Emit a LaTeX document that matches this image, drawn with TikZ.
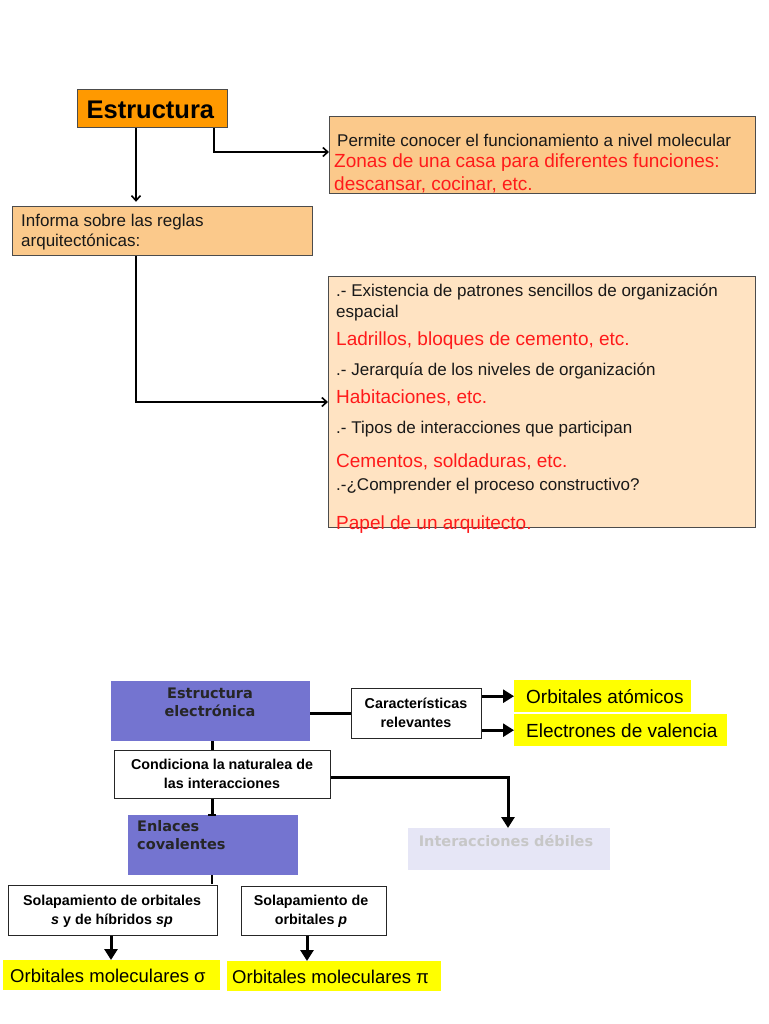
\documentclass[tikz,border=0pt]{standalone}
\usepackage{fontspec}
\setmainfont{Liberation Sans}
\newfontfamily\djv{DejaVu Sans}
\usetikzlibrary{arrows.meta,calc}
\definecolor{orng}{HTML}{FF9900}
\definecolor{lorng}{HTML}{FBC98B}
\definecolor{pale}{HTML}{FFE3C2}
\definecolor{purp}{HTML}{7474D0}
\definecolor{lav}{HTML}{E6E6F6}
\definecolor{ylw}{HTML}{FFFF00}
\definecolor{redt}{HTML}{FF1A1A}
\tikzset{
  box/.style={draw=black!70, line width=0.8pt, inner sep=0pt, anchor=north west},
  blk/.style={anchor=base west, inner sep=0pt, text=black!90, font=\fontsize{17}{19}\selectfont},
  rdt/.style={anchor=base west, inner sep=0pt, text=redt, font=\fontsize{19}{21}\selectfont},
  thin/.style={line width=1.6pt, -{Straight Barb[length=5pt,width=9pt]}},
  thickln/.style={line width=3pt},
  thickarr/.style={line width=3pt, -{Triangle[length=11pt,width=13pt]}},
  cbox/.style={draw=black!85, line width=1.4pt, fill=white, inner sep=0pt, anchor=north west},
  ctxt/.style={inner sep=0pt, align=center, font=\bfseries\fontsize{14.3}{19}\selectfont},
  ybox/.style={fill=ylw, inner sep=0pt, anchor=north west},
  ytxt/.style={anchor=base west, inner sep=0pt, font=\fontsize{19}{21}\selectfont},
  pbox/.style={fill=purp, inner sep=0pt, anchor=north west},
  ptxt/.style={inner sep=0pt, font=\djv\bfseries\fontsize{14.5}{18}\selectfont, text=black!85}
}
\begin{document}
\begin{tikzpicture}[x=1pt,y=-1pt]
\useasboundingbox[fill=white] (0,0) rectangle (768,1024);

% ---------- top part ----------
\node[box, fill=orng, minimum width=150pt, minimum height=38pt] (est) at (77,89) {};
\node[inner sep=0pt, font=\bfseries\fontsize{25.5}{27}\selectfont] (estt) at ($(est.center)+(-2,1)$) {Estructura};

\node[box, fill=lorng, minimum width=426pt, minimum height=77pt] (perm) at (329,116) {};
\node[blk] (p1) at (337,147) {Permite conocer el funcionamiento a nivel molecular};
\node[rdt] (p2) at (334,168) {Zonas de una casa para diferentes funciones:};
\node[rdt] (p3) at (334,191) {descansar, cocinar, etc.};

\node[box, fill=lorng, minimum width=300pt, minimum height=49pt] (inf) at (12,206) {};
\node[blk] (i1) at (21,226) {Informa sobre las reglas};
\node[blk] (i2) at (21,247) {arquitectónicas:};

\node[box, fill=pale, minimum width=427pt, minimum height=251pt] (big) at (328,276) {};
\node[blk] (b1) at (336,296) {.- Existencia de patrones sencillos de organización};
\node[blk] (b2) at (336,317) {espacial};
\node[rdt] (b3) at (336,345) {Ladrillos, bloques de cemento, etc.};
\node[blk] (b4) at (336,375) {.- Jerarquía de los niveles de organización};
\node[rdt] (b5) at (336,403) {Habitaciones, etc.};
\node[blk] (b6) at (336,433) {.- Tipos de interacciones que participan};
\node[rdt] (b7) at (336,467) {Cementos, soldaduras, etc.};
\node[blk] (b8) at (336,490) {.-¿Comprender el proceso constructivo?};
\node[rdt] (b9) at (336,529) {Papel de un arquitecto.};

\draw[thin] ($(est.south west)+(59,0)$) -- ($(est.south west)+(59,74)$);
\draw[thin] ($(est.south west)+(137,0)$) |- ($(perm.north west)+(0,36)$);
\draw[thin] ($(inf.south west)+(124,0)$) |- ($(big.north west)+(0,126)$);

% ---------- bottom part ----------
\node[pbox, minimum width=199pt, minimum height=60pt] (ee) at (111,681) {};
\node[ptxt, align=center] (eet) at (210,702) {Estructura\\electrónica};

\node[cbox, minimum width=130pt, minimum height=50pt] (car) at (351,688) {};
\node[ctxt] (cart) at (416,713) {Características\\relevantes};

\node[ybox, minimum width=177pt, minimum height=32pt] (oa) at (514,680) {};
\node[ytxt] (oat) at (526,703) {Orbitales atómicos};
\node[ybox, minimum width=213pt, minimum height=32pt] (ev) at (514,714) {};
\node[ytxt] (evt) at (526,737) {Electrones de valencia};

\draw[thickln] (ee.east |- car.west) -- (car.west);
\draw[thickarr] (car.east |- oa.west) -- (oa.west);
\draw[thickarr] (car.east |- ev.west) -- (ev.west);

\node[cbox, minimum width=216pt, minimum height=48pt] (cond) at (114,750) {};
\node[ctxt] (condt) at (222,774) {Condiciona la naturalea de\\las interacciones};
\draw[thickln] ($(ee.south west)+(101,0)$) -- ($(cond.north west)+(98,0)$);

\node[anchor=north west, fill=lav, inner sep=0pt, minimum width=202pt, minimum height=42pt] (id) at (408,828) {};
\node[inner sep=0pt, font=\djv\bfseries\fontsize{14.5}{16}\selectfont, text=black!22] (idt) at (506,841) {Interacciones débiles};
\draw[thickarr] ($(cond.north east)+(0,27)$) -| ($(id.north west)+(100,0)$);

\node[pbox, minimum width=170pt, minimum height=60pt] (enl) at (128,815) {};
\node[ptxt, align=left, anchor=north west] (enlt) at (137,820) {Enlaces\\covalentes};
\draw[thickln] ($(cond.south west)+(98,0)$) -- ($(enl.north west)+(84,0)$);
\draw[line width=2pt] ($(enl.north west)+(80,0)$) -- ($(enl.north west)+(88,0)$);

\node[cbox, minimum width=209pt, minimum height=50pt] (s1) at (8,885) {};
\node[ctxt] (s1t) at (112,911) {Solapamiento de orbitales\\\textit{s} y de híbridos \textit{sp}};
\node[cbox, minimum width=145pt, minimum height=49pt] (s2) at (241,886) {};
\node[ctxt] (s2t) at (311,911) {Solapamiento de\\orbitales \textit{p}};
\draw[line width=2pt] ($(enl.south west)+(84,0)$) -- ($(enl.south west)+(84,9)$);

\node[ybox, minimum width=217pt, minimum height=30pt] (ms) at (3,960) {};
\node[ytxt, font=\fontsize{18.5}{20}\selectfont] (mst) at (10,982) {Orbitales moleculares σ};
\node[ybox, minimum width=214pt, minimum height=30pt] (mp) at (227,961) {};
\node[ytxt, font=\fontsize{18.5}{20}\selectfont] (mpt) at (232,983) {Orbitales moleculares π};

\draw[thickarr] ($(s1.south west)+(103,0)$) -- ($(ms.north west)+(108,0)$);
\draw[thickarr] ($(s2.south west)+(66,0)$) -- ($(mp.north west)+(80,0)$);
\end{tikzpicture}
\end{document}
